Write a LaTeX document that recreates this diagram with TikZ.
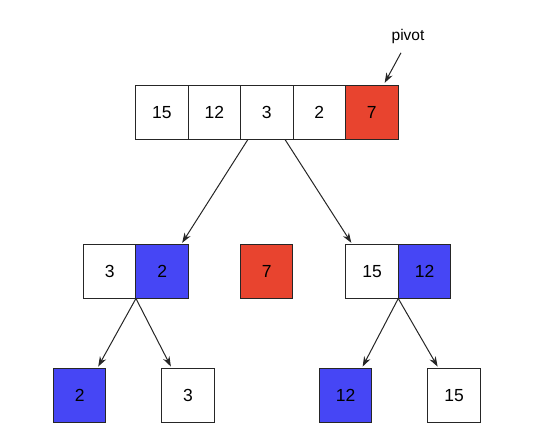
\documentclass[tikz,border=0pt]{standalone}
\usepackage{fontspec}
\setmainfont{Liberation Sans}
\usetikzlibrary{positioning,arrows.meta}
\definecolor{pivotred}{HTML}{E8442F}
\definecolor{lowblue}{HTML}{4646F5}
\tikzset{
cell/.style={draw=black!85,line width=1pt,minimum width=52.5pt,minimum height=54pt,inner sep=0pt,outer sep=0pt,font=\fontsize{17.5}{20}\selectfont},
redcell/.style={cell,fill=pivotred},
bluecell/.style={cell,fill=lowblue},
link/.style={-{Stealth[length=10pt,width=7pt]},line width=1pt,black!85,shorten >=2pt}
}
\begin{document}
\begin{tikzpicture}[x=1pt,y=-1pt]
\useasboundingbox (0,0) rectangle (554,438);
\node[cell] (c1) at (161.8,112.5) {15};
\node[cell,right=0pt of c1] (c2) {12};
\node[cell,right=0pt of c2] (c3) {3};
\node[cell,right=0pt of c3] (c4) {2};
\node[redcell,right=0pt of c4] (c5) {7};
\node[font=\fontsize{15.5}{18}\selectfont] (pivot) at (408,36) {pivot};
\draw[link,shorten >=3pt] ([xshift=-7pt,yshift=-6pt]pivot.south) -- (c5.67);

\node[cell] (a1) at (109.7,271.5) {3};
\node[bluecell,right=0pt of a1] (a2) {2};
\node[redcell] (m) at (266.7,271.5) {7};
\node[cell] (b1) at (372,271.5) {15};
\node[bluecell,right=0pt of b1] (b2) {12};

\node[bluecell] (l1) at (79.7,395.3) {2};
\node[cell] (l2) at (188,395.3) {3};
\node[bluecell] (r1) at (345.5,395.3) {12};
\node[cell] (r2) at (454.2,395.3) {15};

\draw[link] (c3.235) -- (a2.55);
\draw[link] (c3.-56) -- (b1.126);
\draw[link] (a1.south east) -- (l1.57);
\draw[link] (a1.south east) -- (l2.121);
\draw[link] (b1.south east) -- (r1.59);
\draw[link] (b1.south east) -- (r2.120);
\end{tikzpicture}
\end{document}
